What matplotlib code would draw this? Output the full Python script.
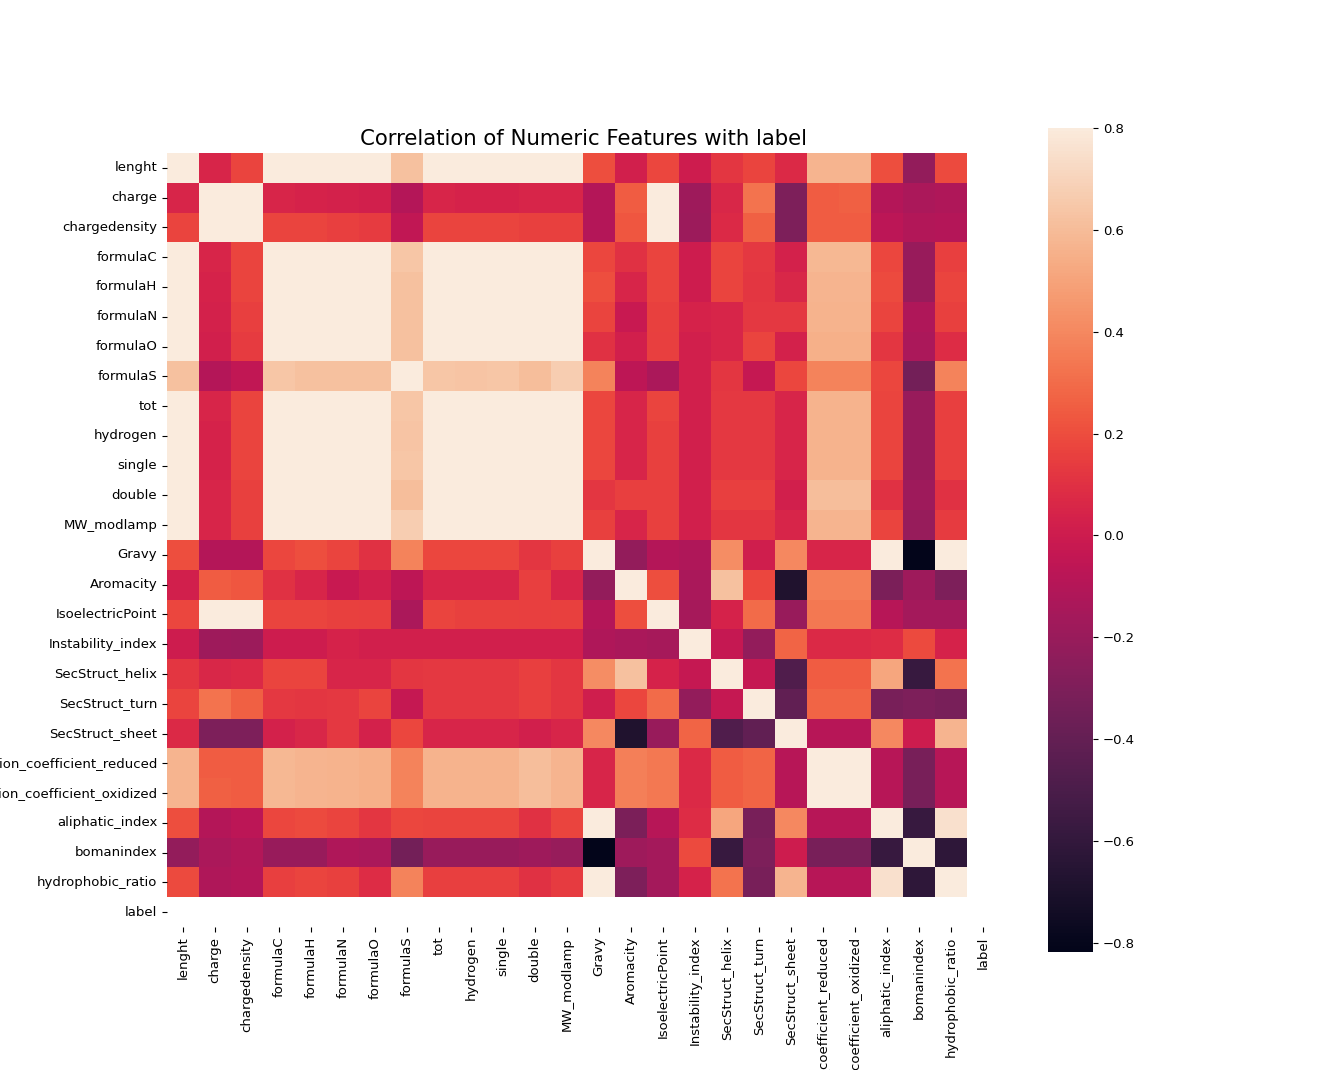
#libraries
import numpy as np
import pandas as pd
import matplotlib
matplotlib.use('Agg')
import matplotlib.pyplot as plt
import seaborn as sns

features = ['lenght', 'charge', 'chargedensity', 'formulaC', 'formulaH', 'formulaN',
            'formulaO', 'formulaS', 'tot', 'hydrogen', 'single', 'double', 'MW_modlamp',
            'Gravy', 'Aromacity', 'IsoelectricPoint', 'Instability_index',
            'SecStruct_helix', 'SecStruct_turn', 'SecStruct_sheet',
            'extinction_coefficient_reduced', 'extinction_coefficient_oxidized',
            'aliphatic_index', 'bomanindex', 'hydrophobic_ratio', 'label']

# lower triangle of the correlation matrix (row i -> columns 0..i-1)
# the 'label' row/column is all NaN (constant column)
lower = [
    [],
    [0.05],
    [0.17, 1.0],
    [0.99, 0.05, 0.17],
    [0.99, 0.04, 0.17, 0.99],
    [0.98, 0.03, 0.15, 0.98, 0.97],
    [0.98, 0.02, 0.14, 0.98, 0.97, 0.97],
    [0.62, -0.10, -0.05, 0.64, 0.62, 0.62, 0.62],
    [0.99, 0.05, 0.17, 0.99, 0.99, 0.98, 0.98, 0.64],
    [0.99, 0.04, 0.17, 0.99, 1.00, 0.97, 0.97, 0.63, 0.99],
    [0.99, 0.04, 0.17, 0.99, 0.99, 0.97, 0.97, 0.64, 0.99, 0.99],
    [0.98, 0.05, 0.16, 0.99, 0.98, 0.97, 0.97, 0.61, 0.98, 0.97, 0.97],
    [0.99, 0.05, 0.16, 0.99, 0.99, 0.98, 0.98, 0.67, 0.99, 0.99, 0.99, 0.98],
    [0.20, -0.10, -0.10, 0.18, 0.20, 0.17, 0.10, 0.38, 0.18, 0.18, 0.18, 0.12, 0.16],
    [0.02, 0.25, 0.23, 0.10, 0.05, -0.02, 0.02, -0.06, 0.05, 0.05, 0.05, 0.15, 0.05, -0.22],
    [0.18, 0.95, 0.95, 0.17, 0.17, 0.16, 0.15, -0.13, 0.17, 0.16, 0.16, 0.15, 0.16, -0.10, 0.20],
    [0.00, -0.18, -0.19, 0.00, 0.00, 0.04, 0.02, 0.02, 0.02, 0.02, 0.02, 0.02, 0.02, -0.12, -0.14, -0.15],
    [0.12, 0.06, 0.07, 0.17, 0.17, 0.05, 0.05, 0.12, 0.13, 0.13, 0.13, 0.15, 0.12, 0.42, 0.62, 0.04, -0.03],
    [0.17, 0.32, 0.26, 0.13, 0.12, 0.13, 0.17, -0.03, 0.13, 0.13, 0.13, 0.15, 0.12, 0.01, 0.18, 0.30, -0.22, -0.03],
    [0.07, -0.30, -0.30, 0.03, 0.06, 0.13, 0.03, 0.18, 0.05, 0.05, 0.05, 0.02, 0.05, 0.40, -0.68, -0.20, 0.27, -0.48, -0.41],
    [0.57, 0.25, 0.25, 0.58, 0.57, 0.56, 0.55, 0.38, 0.56, 0.56, 0.56, 0.61, 0.57, 0.05, 0.37, 0.34, 0.07, 0.25, 0.27, -0.09],
    [0.57, 0.26, 0.25, 0.58, 0.57, 0.56, 0.55, 0.38, 0.56, 0.56, 0.56, 0.61, 0.57, 0.05, 0.37, 0.34, 0.07, 0.25, 0.27, -0.09, 1.00],
    [0.20, -0.10, -0.07, 0.18, 0.19, 0.17, 0.12, 0.18, 0.17, 0.17, 0.17, 0.10, 0.17, 0.92, -0.31, -0.09, 0.08, 0.51, -0.32, 0.40, -0.09, -0.09],
    [-0.22, -0.13, -0.11, -0.20, -0.20, -0.12, -0.13, -0.34, -0.20, -0.20, -0.20, -0.18, -0.21, -0.818, -0.18, -0.16, 0.19, -0.58, -0.30, 0.00, -0.32, -0.32, -0.58],
    [0.19, -0.12, -0.10, 0.15, 0.17, 0.16, 0.08, 0.38, 0.15, 0.15, 0.15, 0.10, 0.14, 0.95, -0.30, -0.16, 0.04, 0.32, -0.32, 0.57, -0.09, -0.09, 0.75, -0.62],
]

n = len(features)
corr = np.full((n, n), np.nan)
for i, row in enumerate(lower):
    corr[i, i] = 1.0
    for j, v in enumerate(row):
        corr[i, j] = v
        corr[j, i] = v
df_corr = pd.DataFrame(corr, index=features, columns=features)

fig = plt.figure(figsize=(13.38, 10.7), dpi=100)
W, H = 1338, 1070
ax = fig.add_axes([167 / W, 1 - 927 / H, 832 / W, 774 / H])
cax = fig.add_axes([1048 / W, 1 - 952 / H, 45 / W, 824 / H])

sns.heatmap(df_corr, vmax=0.8, ax=ax, cbar_ax=cax,
            xticklabels=features, yticklabels=features)
ax.set_title('Correlation of Numeric Features with label', fontsize=15.3)
ax.tick_params(axis='both', labelsize=9.5)
cax.tick_params(labelsize=9.5)
plt.setp(ax.get_xticklabels(), rotation=90)
plt.setp(ax.get_yticklabels(), rotation=0)

plt.savefig('out.png', dpi=100)
